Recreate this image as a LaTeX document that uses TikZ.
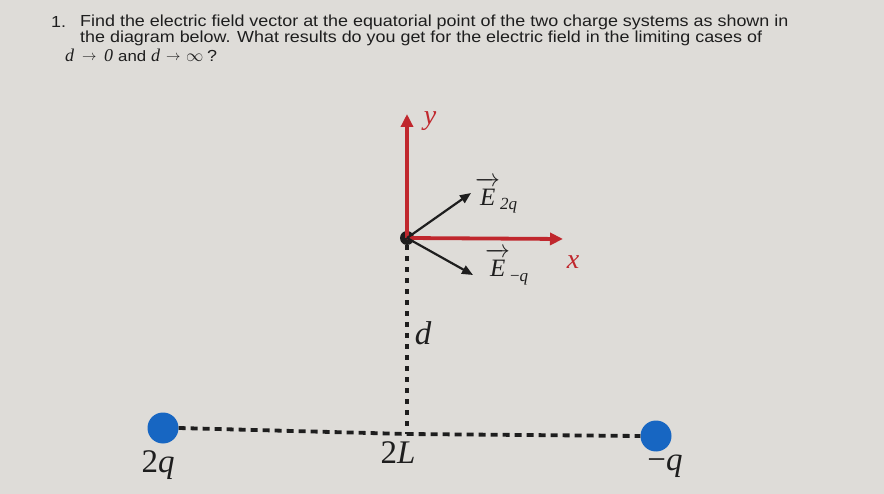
\documentclass[tikz,border=0pt]{standalone}
\usepackage{fontspec}
\usepackage{graphicx}
\setmainfont{Liberation Serif}
\newfontfamily\qfont{Liberation Sans}
\usetikzlibrary{arrows.meta}
\definecolor{bg}{HTML}{DEDCD8}
\definecolor{axred}{HTML}{C0272D}
\definecolor{chblue}{HTML}{1766C2}
\definecolor{ink}{HTML}{1E1E1E}
\newcommand{\vecE}{\ensuremath{\overrightarrow{\hbox{\itshape E\rule{0pt}{0.8em}}}}}
\newcommand{\qs}[1]{\scalebox{1.12}[1]{#1}}
\tikzset{
  axis/.style={draw=axred, line width=3.8pt, -{Triangle[length=13pt,width=12pt]}},
  field/.style={draw=ink, line width=2.2pt, -{Triangle[length=11pt,width=9pt]}},
  vguide/.style={draw=ink, line width=3.8pt, dash pattern=on 5pt off 6pt},
  hguide/.style={draw=ink, line width=3.8pt, dash pattern=on 7pt off 5pt},
  charge/.style={circle, fill=chblue, minimum size=31pt, inner sep=0pt},
  lbl/.style={font=\fontsize{33}{35}\selectfont, text=ink, inner sep=0pt},
  axlbl/.style={font=\itshape\fontsize{28}{30}\selectfont, text=axred, inner sep=0pt},
  veclbl/.style={font=\fontsize{25}{27}\selectfont, text=ink, inner sep=0pt},
  qtext/.style={font=\qfont\fontsize{16}{17}\selectfont, text=ink, anchor=west, inner sep=0pt},
  mtext/.style={font=\rmfamily\itshape\fontsize{18}{19}\selectfont, text=ink, anchor=base west, inner sep=0pt},
}
\begin{document}
\begin{tikzpicture}[x=1pt,y=-1pt]
\fill[bg] (0,0) rectangle (884,494);
\useasboundingbox (0,0) rectangle (884,494);
% question text
\node[qtext] (num) at (51,22) {\qs{1.}};
\node[qtext] (l1) at (80,22) {\qs{Find the electric field vector at the equatorial point of the two charge systems as shown in}};
\node[qtext] (l2) at (80,38) {\qs{the diagram below. What results do you get for the electric field in the limiting cases of}};
\node[mtext] (d1) at (65,62) {d};
\node[mtext, font=\rmfamily\fontsize{15}{16}\selectfont] (a1) at (82,61) {$\rightarrow$};
\node[mtext] (z0) at (104,62) {0};
\node[mtext, font=\qfont\fontsize{15}{16}\selectfont] (and) at (118,62) {\qs{and}};
\node[mtext] (d2) at (151,62) {d};
\node[mtext, font=\rmfamily\fontsize{15}{16}\selectfont] (a2) at (166,61) {$\rightarrow$};
\node[mtext, font=\rmfamily\fontsize{19}{20}\selectfont] (inf) at (186,62) {$\infty$};
\node[mtext, font=\qfont\fontsize{16}{17}\selectfont] (qm) at (207,62) {\qs{?}};
% origin and axes
\node[circle, fill=ink, minimum size=14pt, inner sep=0pt] (O) at (407,238) {};
\coordinate (ytip) at (407,114);
\coordinate (xtip) at (563,239);
\draw[axis] (O.center) -- (ytip);
\draw[axis] (O.center) -- (xtip);
\node[axlbl] (ylab) at (430,121) {y};
\node[axlbl] (xlab) at (573,262) {x};
% field vectors
\coordinate (e1) at (471,193);
\coordinate (e2) at (473,275);
\draw[field] (O.center) -- (e1);
\draw[field] (O.center) -- (e2);
\node[veclbl, anchor=base west] (E1) at (475,206) {\vecE\raisebox{-4pt}{\fontsize{17}{18}\selectfont\itshape 2q}};
\node[veclbl, anchor=base west] (E2) at (485,277) {\vecE\raisebox{-5pt}{\fontsize{17}{18}\selectfont −\itshape q}};
% charges
\node[charge] (q1) at (163,428) {};
\node[charge] (q2) at (656,436) {};
\coordinate (M) at (407,434);
\draw[vguide] (O.south) -- (M);
\draw[hguide] (q1.east) -- (M) -- (q2.west);
% labels
\node[lbl] (d) at (423,333) {\itshape d};
\node[lbl] (L) at (398,453) {2\itshape L};
\node[lbl] (lq1) at (158,465) {2\itshape q};
\node[lbl] (lq2) at (665,466) {−\itshape q};
\end{tikzpicture}
\end{document}
